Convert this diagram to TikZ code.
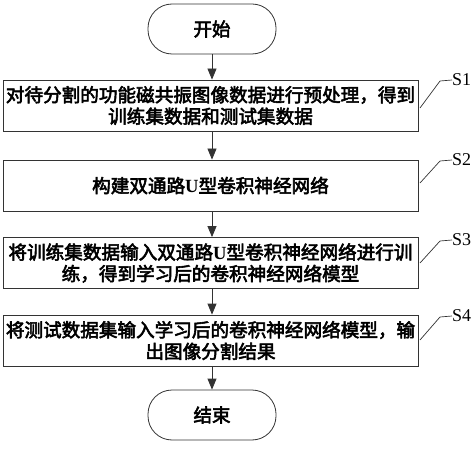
\documentclass[tikz,border=0pt]{standalone}
\usepackage{fontspec}
\setmainfont{Liberation Serif}
\newfontfamily\cjk[FakeBold=3]{Noto Sans CJK SC}
\usetikzlibrary{arrows.meta}
\begin{document}
\begin{tikzpicture}[x=1pt,y=-1pt,
  line/.style={draw=black!80,line width=0.8pt},
  term/.style={line,rounded corners=24pt,minimum width=128pt,minimum height=50pt,font=\cjk\fontsize{18.5}{22}\selectfont,inner sep=0pt},
  stepbox/.style={line,minimum width=415pt,minimum height=51pt,font=\cjk\fontsize{18.6}{21.5}\selectfont,align=center,inner sep=0pt},
  flow/.style={line,-{Triangle[width=9pt,length=11pt]}},
  lab/.style={font=\fontsize{18}{20}\selectfont,inner sep=0pt,anchor=west},
  leader/.style={line,line width=0.7pt}]
\useasboundingbox (0,0) rectangle (474,449);
\node[term] (start) at (212,29) {开始};
\node[stepbox] (s1) at (210.5,105.5) {对待分割的功能磁共振图像数据进行预处理，得到\\训练集数据和测试集数据};
\node[stepbox] (s2) at (210.5,185.5) {构建双通路{\rmfamily\bfseries U}型卷积神经网络};
\node[stepbox] (s3) at (210.5,263) {将训练集数据输入双通路{\rmfamily\bfseries U}型卷积神经网络进行训\\练，得到学习后的卷积神经网络模型};
\node[stepbox] (s4) at (210.5,340.5) {将测试数据集输入学习后的卷积神经网络模型，输\\出图像分割结果};
\node[term] (end) at (212,415) {结束};
\draw[flow] (start.south) -- (start.south |- s1.north);
\draw[flow] (start.south |- s1.south) -- (start.south |- s2.north);
\draw[flow] (start.south |- s2.south) -- (start.south |- s3.north);
\draw[flow] (start.south |- s3.south) -- (start.south |- s4.north);
\draw[flow] (start.south |- s4.south) -- (end.north);
\node[lab] (l1) at (452,80) {S1};
\node[lab] (l2) at (452,160) {S2};
\node[lab] (l3) at (452,240) {S3};
\node[lab] (l4) at (452,316) {S4};
\coordinate (k1) at (440,81);
\coordinate (k2) at (440,161);
\coordinate (k3) at (440,241);
\coordinate (k4) at (440,317);
\draw[leader] (l1.west) -- (k1) -- (420,108);
\draw[leader] (l2.west) -- (k2) -- (420,183);
\draw[leader] (l3.west) -- (k3) -- (420,263);
\draw[leader] (l4.west) -- (k4) -- (420,340);
\end{tikzpicture}
\end{document}
